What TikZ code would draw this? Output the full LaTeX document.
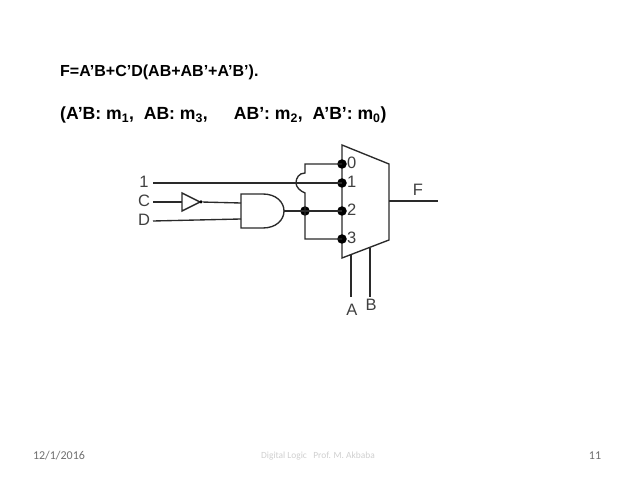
\documentclass[tikz,border=0pt]{standalone}
\usepackage{fontspec}
\setmainfont{Liberation Sans}
\newfontfamily\footfont{Carlito}
\definecolor{wirec}{HTML}{2A2A2A}
\definecolor{labelc}{HTML}{404040}
\definecolor{footc}{HTML}{707070}
\definecolor{footp}{HTML}{D0D0D0}
\tikzset{
 wire/.style={draw=wirec,line width=1.35pt,line join=miter},
 dotj/.style={circle,fill=black,inner sep=0pt,minimum size=9.5pt},
 lab/.style={inner sep=0pt,text=labelc,font=\fontsize{16.5}{18}\selectfont},
 muxlab/.style={inner sep=0pt,anchor=west,text=labelc,font=\fontsize{16.5}{18}\selectfont},
 head/.style={inner sep=0pt,anchor=west,text=black,font=\bfseries},
 foot/.style={inner sep=0pt,font=\footfont\fontsize{12}{14}\selectfont,text=footc},
}
\begin{document}
\begin{tikzpicture}[x=1pt,y=-1pt]
\useasboundingbox[fill=white] (0,0) rectangle (638,478);
\node[head,font=\bfseries\fontsize{16}{18}\selectfont] (eq) at (60,72) {F=A’B+C’D(AB+AB’+A’B’).};
\node[head,font=\bfseries\fontsize{17.6}{20}\selectfont] (minterms) at (60,115) {(A’B: m$_{\mathbf{1}}$,\ \ AB: m$_{\mathbf{3}}$,\hspace{26pt}AB’: m$_{\mathbf{2}}$,\ \ A’B’: m$_{\mathbf{0}}$)};
% mux
\coordinate (mtl) at (342,145);
\coordinate (mtr) at (389,164);
\coordinate (mbr) at (389,240);
\coordinate (mbl) at (342,258);
\draw[wire] (mtl) -- (mtr) -- (mbr) -- (mbl) -- cycle;
\node[dotj] (d0) at (342,164) {};
\node[dotj] (d1) at (342,183) {};
\node[dotj] (d2) at (342,211) {};
\node[dotj] (d3) at (342,239) {};
\node[dotj] (j) at (305,211) {};
\node[muxlab] at (347,163) {0};
\node[muxlab] at (347,182) {1};
\node[muxlab] at (347,210) {2};
\node[muxlab] at (347,238) {3};
% inputs
\node[lab] (l1) at (144,182) {1};
\node[lab] (lc) at (144,201) {C};
\node[lab] (ld) at (144,220) {D};
\coordinate (w1) at (153,183);
\coordinate (wc) at (153,202);
\coordinate (wd) at (153,221);
\draw[wire] (w1) -- (d1.center);
% inverter
\coordinate (ia) at (182,193);
\coordinate (ib) at (182,211);
\coordinate (ic) at (200,202);
\draw[wire] (ia) -- (ic) -- (ib) -- cycle;
\node[circle,fill=black,inner sep=0pt,minimum size=3.5pt] (inv) at (201,202) {};
\coordinate (ii) at (182,202);
\draw[wire] (wc) -- (ii);
% AND
\coordinate (a1) at (241,203);
\coordinate (a2) at (241,219);
\coordinate (ao) at (284,211);
\draw[wire] (241,194) -- (263,194) .. controls (276,194) and (284,202) .. (ao) .. controls (284,220) and (276,228) .. (263,228) -- (241,228) -- cycle;
\draw[wire] (inv) -- (a1);
\draw[wire] (wd) -- (a2);
\draw[wire] (ao) -- (d2.center);
% feedback
\draw[wire] (d0.center) -- (305,164) -- (305,173) .. controls (299,173) and (296,178) .. (296,183) .. controls (296,187) and (300,191) .. (305,193) -- (305,239) -- (d3.center);
% output
\coordinate (fo) at (389,201);
\coordinate (fe) at (438,201);
\draw[wire] (fo) -- (fe);
\node[lab] (lf) at (418,190) {F};
% select
\node[lab] (la) at (352,310) {A};
\node[lab] (lb) at (371,305) {B};
\coordinate (sa) at (351,255);
\coordinate (sb) at (370,248);
\draw[wire] (sa) -- (351,297);
\draw[wire] (sb) -- (370,297);
% footer
\node[foot] (date) at (59,456) {12/1/2016};
\node[foot,text=footp,font=\footfont\fontsize{9.4}{11}\selectfont] (mid) at (318,456) {Digital Logic\ \ \ Prof. M. Akbaba};
\node[foot] (num) at (595,456) {11};
\end{tikzpicture}
\end{document}
